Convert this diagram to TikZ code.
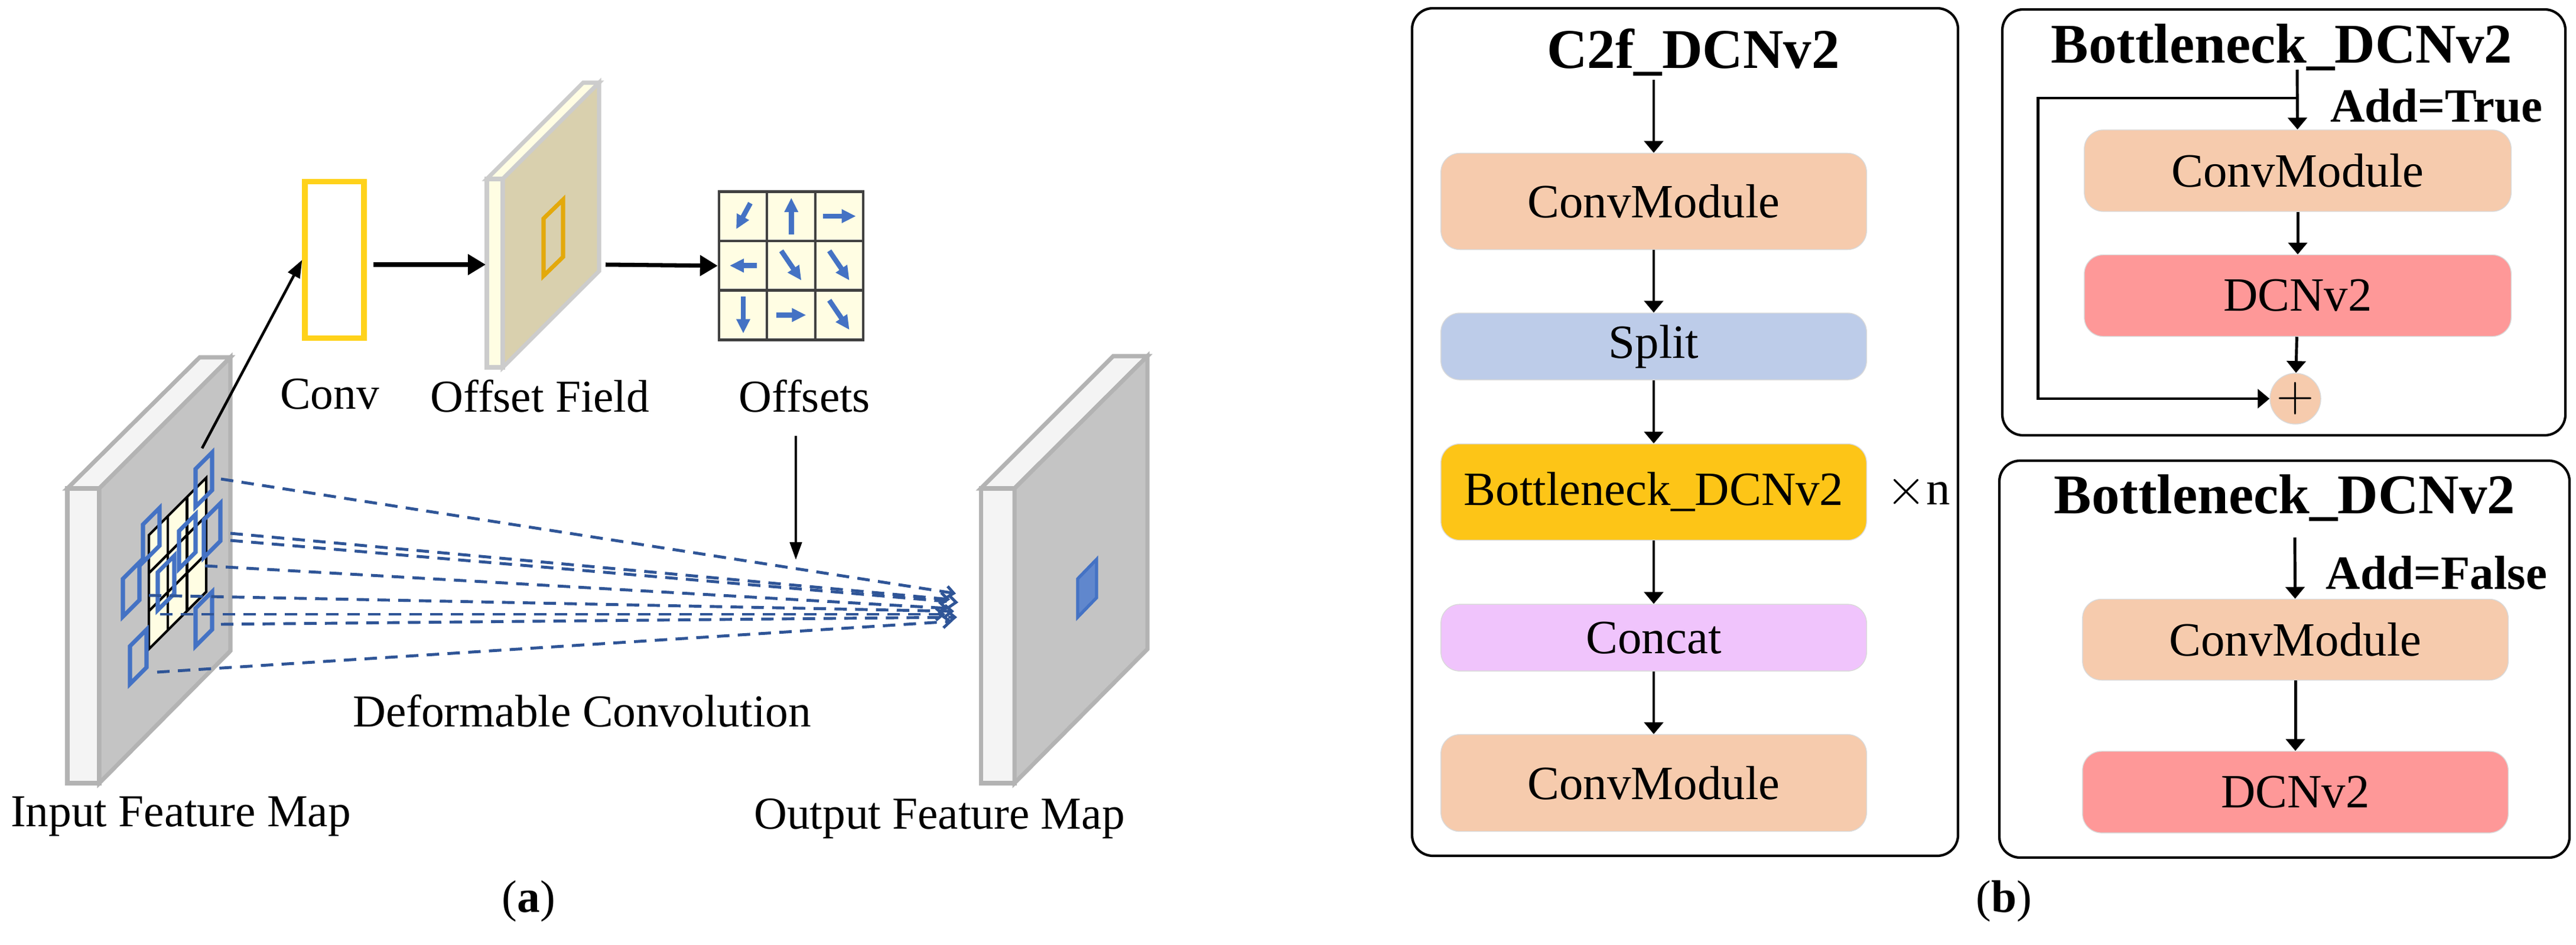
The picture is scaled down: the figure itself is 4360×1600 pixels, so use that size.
\documentclass[tikz,border=0pt]{standalone}
\usepackage{fontspec}
\setmainfont{Liberation Serif}
\usetikzlibrary{arrows.meta}
\usetikzlibrary{positioning}

\definecolor{mapface}{HTML}{C4C4C4}
\definecolor{mapside}{HTML}{F4F4F4}
\definecolor{mapedge}{HTML}{B3B3B3}
\definecolor{fieldface}{HTML}{D9D0AE}
\definecolor{paleyellow}{HTML}{FFFDE3}
\definecolor{convyellow}{HTML}{FFD21A}
\definecolor{kernelorange}{HTML}{E3A90C}
\definecolor{offblue}{HTML}{4472C4}
\definecolor{dashblue}{HTML}{2F5597}
\definecolor{cmfill}{HTML}{F6CBAD}
\definecolor{splitfill}{HTML}{BDCCE9}
\definecolor{bnfill}{HTML}{FDC517}
\definecolor{catfill}{HTML}{F0C4FC}
\definecolor{dcnfill}{HTML}{FE9898}

\tikzset{
  lbl/.style={font=\fontsize{22}{26}\selectfont},
  title/.style={font=\fontsize{27}{31}\selectfont\bfseries},
  flag/.style={font=\fontsize{23}{27}\selectfont\bfseries},
  block/.style={rounded corners=0.32cm, draw=black!15, line width=0.4pt,
    minimum width=7.2cm, font=\fontsize{23}{27}\selectfont},
  flow/.style={line width=1.4pt, -{Triangle[length=0.2cm,width=0.32cm]}},
  bigflow/.style={line width=2pt, -{Triangle[length=0.3cm,width=0.34cm]}},
  frame/.style={rounded corners=0.35cm, line width=1.2pt},
}

\begin{document}
\begin{tikzpicture}[x=0.01cm, y=-0.01cm]
\useasboundingbox (0,0) rectangle (4360,1600);

% ---- (a) input feature map
\filldraw[fill=mapside, draw=mapedge, line width=2pt]
  (114,827) -- (338,605) -- (390,605) -- (168,827) -- cycle;
\filldraw[fill=mapside, draw=mapedge, line width=2pt]
  (114,827) rectangle (168,1326);
\filldraw[fill=mapface, draw=mapedge, line width=2pt]
  (168,827) -- (390,605) -- (390,1102) -- (168,1326) -- cycle;
\filldraw[fill=paleyellow, draw=black, line width=1.2pt]
  (252,906) -- (349,809) -- (349,1002) -- (252,1099) -- cycle;
\foreach \i in {1,2} {
  \draw[line width=1.2pt] (252+32.3*\i,906-32.3*\i) -- (252+32.3*\i,1099-32.3*\i);
  \draw[line width=1.2pt] (252,906+64.3*\i) -- (349,809+64.3*\i);
}
\foreach \x/\y in {345/812, 256/906, 359/898, 317/917, 222/998, 281/987, 345/1048, 234/1112}
  \draw[offblue, line width=2pt]
    (\x-14,\y-18) -- (\x+14,\y-46) -- (\x+14,\y+18) -- (\x-14,\y+46) -- cycle;

% ---- (a) output feature map
\filldraw[fill=mapside, draw=mapedge, line width=2pt]
  (1660,827) -- (1884,603) -- (1942,603) -- (1717,827) -- cycle;
\filldraw[fill=mapside, draw=mapedge, line width=2pt]
  (1660,827) rectangle (1717,1326);
\filldraw[fill=mapface, draw=mapedge, line width=2pt]
  (1717,827) -- (1942,603) -- (1942,1099) -- (1717,1326) -- cycle;
\filldraw[fill=offblue!85!white, draw=offblue, line width=1.5pt]
  (1824,980) -- (1856,947) -- (1856,1012) -- (1824,1045) -- cycle;

% sampling lines
\foreach \i/\sx/\sy/\tx/\ty in {1/374/811/1618/1005, 2/390/903/1608/1015,
    3/390/915/1622/1020, 4/347/958/1605/1030, 5/252/1008/1615/1035,
    6/271/1040/1600/1040, 7/374/1057/1620/1045, 8/266/1138/1612/1052} {
  \coordinate (s\i) at (\sx,\sy);
  \coordinate (t\i) at (\tx,\ty);
  \draw[dashblue, line width=1.4pt, dash pattern=on 6pt off 4pt,
    -{Straight Barb[length=0.12cm,width=0.2cm]}] (s\i) -- (t\i);
}

% ---- (a) conv, offset field, offsets
\node[draw=convyellow, line width=2.6pt, minimum width=1.0cm,
  minimum height=2.64cm, inner sep=0pt] (conv) at (566,440) {};
\filldraw[fill=paleyellow, draw=black!20, line width=2pt]
  (824,303) -- (987,140) -- (1014,140) -- (851,303) -- cycle;
\filldraw[fill=paleyellow, draw=black!20, line width=2pt]
  (824,303) rectangle (851,622);
\filldraw[fill=fieldface, draw=black!20, line width=2pt]
  (851,303) -- (1014,140) -- (1014,459) -- (851,622) -- cycle;
\draw[kernelorange, line width=2pt]
  (920,370) -- (953,338) -- (953,435) -- (920,467) -- cycle;
\coordinate (fieldin) at (822,448);
\coordinate (fieldout) at (1025,448);

\node[draw=black!75, fill=paleyellow, line width=1.2pt, minimum width=2.44cm,
  minimum height=2.51cm, inner sep=0pt] (offsets) at (1339,450) {};
\foreach \i in {1,2} {
  \draw[black!75, line width=1.2pt] (1217+81.3*\i,324) -- (1217+81.3*\i,575);
  \draw[black!75, line width=1.2pt] (1217,324+83.7*\i) -- (1461,324+83.7*\i);
}
\foreach \c/\r/\dx/\dy in {0/0/-24/44, 1/0/0/-62, 2/0/56/0,
    0/1/-46/0, 1/1/34/50, 2/1/34/50,
    0/2/0/62, 1/2/50/0, 2/2/34/50}
  \draw[offblue, line width=2.4pt, -{Triangle[length=0.24cm,width=0.22cm]}]
    (1258+81.3*\c-\dx/2,366+83.7*\r-\dy/2) -- ++(\dx,\dy);

\node[lbl] (convlbl) at (558,667) {Conv};
\node[lbl] (fieldlbl) at (914,671) {Offset Field};
\node[lbl] (offlbl) at (1362,671) {Offsets};
\node[lbl] (inlbl) at (306,1382) {Input Feature Map};
\node[lbl] (outlbl) at (1590,1386) {Output Feature Map};
\node[lbl] (deform) at (985,1204) {Deformable Convolution};
\node[lbl] (capa) at (895,1526) {(\textbf{a})};

\coordinate (inmap) at (342,759);
\coordinate (offdown) at (1347,738);
\coordinate (offend) at (1347,948);
\draw[line width=1.3pt, -{Triangle[length=0.3cm,width=0.22cm]}] (inmap) -- (conv.west);
\draw[bigflow] (conv.east |- fieldin) ++(11,0) coordinate (convout) -- (fieldin);
\draw[bigflow] (fieldout) -- (offsets.west);
\draw[line width=1.3pt, -{Triangle[length=0.3cm,width=0.2cm]}] (offdown) -- (offend);

% ---- (b) C2f_DCNv2
\draw[frame] (2390,14) rectangle (3314,1449);
\node[title] (c2f) at (2866,89) {C2f\_DCNv2};
\node[block, fill=cmfill, minimum height=1.63cm] (cm1) at (2799,341) {ConvModule};
\node[block, fill=splitfill, minimum height=1.13cm, below=1.06cm of cm1] (split) {Split};
\node[block, fill=bnfill, minimum height=1.63cm, below=1.07cm of split] (bn) {Bottleneck\_DCNv2};
\node[block, fill=catfill, minimum height=1.13cm, below=1.07cm of bn] (cat) {Concat};
\node[block, fill=cmfill, minimum height=1.64cm, below=1.06cm of cat] (cm2) {ConvModule};
\node[lbl, font=\fontsize{23}{27}\selectfont, right=0.2cm of bn] (rep) {$\times$n};
\coordinate (c2fin) at (2799,135);
\draw[flow] (c2fin) -- (cm1);
\draw[flow] (cm1) -- (split);
\draw[flow] (split) -- (bn);
\draw[flow] (bn) -- (cat);
\draw[flow] (cat) -- (cm2);

% ---- (b) Bottleneck_DCNv2, Add=True
\draw[frame] (3389,16) rectangle (4342,737);
\node[title] (bnt) at (3862,80) {Bottleneck\_DCNv2};
\node[flag] (addt) at (4124,179) {Add=True};
\node[block, fill=cmfill, minimum width=7.22cm, minimum height=1.38cm] (cmA) at (3889,289) {ConvModule};
\node[block, fill=dcnfill, minimum width=7.22cm, minimum height=1.38cm, below=0.72cm of cmA] (dcnA) {DCNv2};
\node[circle, fill=cmfill, draw=black!15, minimum size=0.86cm, inner sep=0pt,
  font=\fontsize{23}{27}\selectfont] (plus) at (3885,675) {$+$};
\coordinate (bnin) at (3888,118);
\coordinate (bnsplit) at (3888,166);
\coordinate (bnloop) at (3449,166);
\draw[flow] (bnin) -- (cmA);
\draw[flow] (cmA) -- (dcnA);
\draw[flow] (dcnA) -- (plus);
\draw[flow] (bnsplit) -- (bnloop) |- (plus);

% ---- (b) Bottleneck_DCNv2, Add=False
\draw[frame] (3384,780) rectangle (4349,1452);
\node[title] (bnf) at (3867,843) {Bottleneck\_DCNv2};
\node[flag] (addf) at (4124,970) {Add=False};
\node[block, fill=cmfill, minimum height=1.37cm] (cmB) at (3885,1083) {ConvModule};
\node[block, fill=dcnfill, minimum height=1.38cm, below=1.19cm of cmB] (dcnB) {DCNv2};
\coordinate (bnfin) at (3884,910);
\draw[flow] (bnfin) -- (cmB);
\draw[flow] (cmB) -- (dcnB);

\node[lbl] (capb) at (3392,1526) {(\textbf{b})};
\end{tikzpicture}
\end{document}
